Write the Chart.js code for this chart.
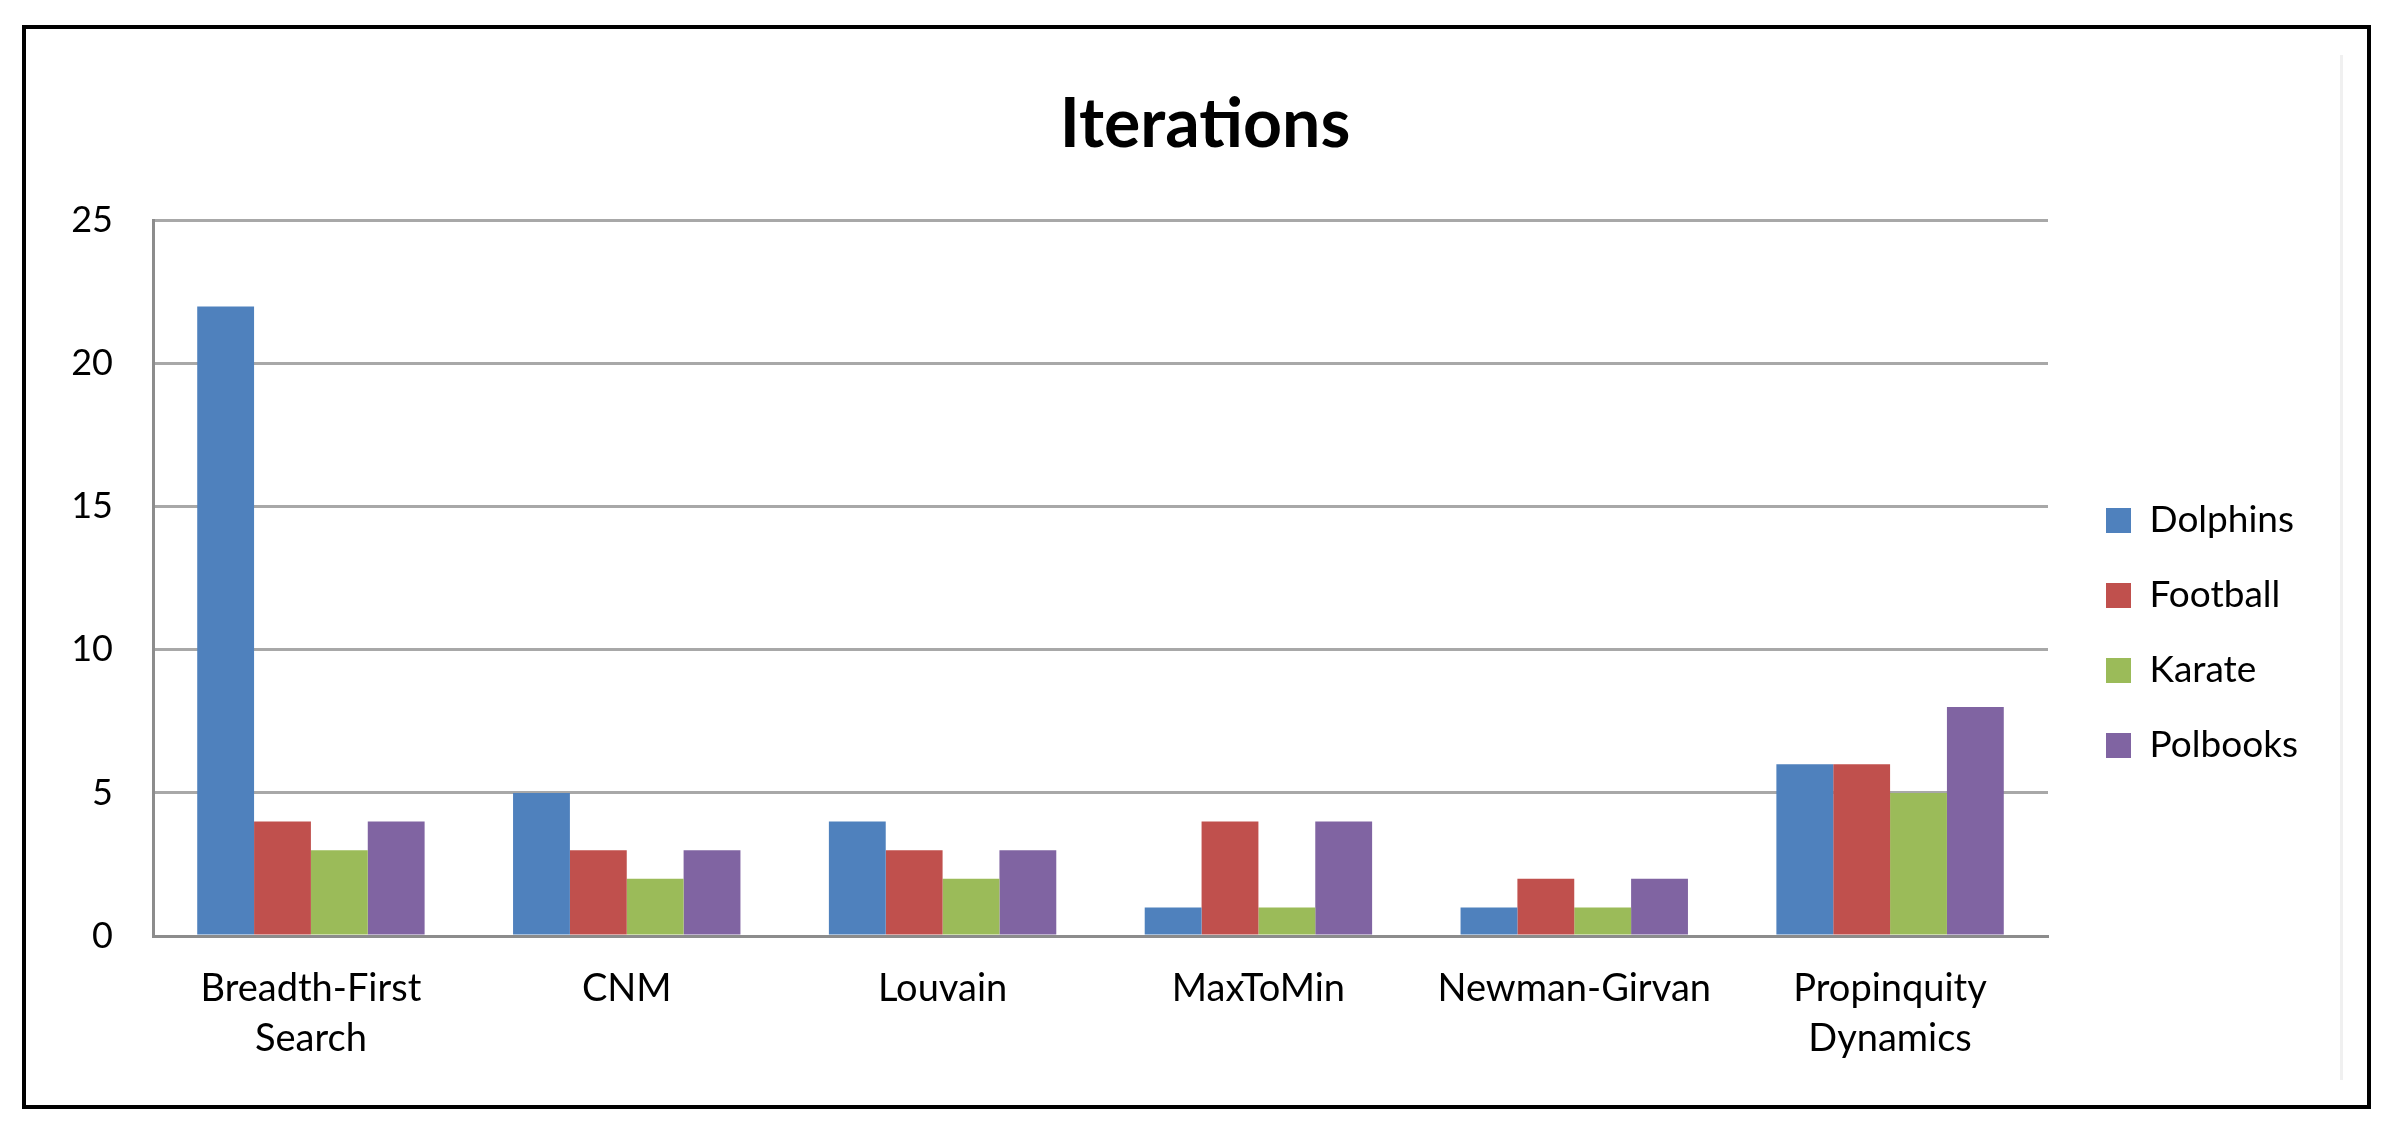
<!DOCTYPE html>
<html>
<head>
<meta charset="utf-8">
<script src="https://cdn.jsdelivr.net/npm/chart.js@4.4.1/dist/chart.umd.min.js"></script>
<style>
  html, body { margin: 0; padding: 0; background: #fff; }
  #wrap { position: relative; width: 2396px; height: 1130px; }
  #chart { position: absolute; left: 0; top: 0; }
  #frame {
    position: absolute; left: 22px; top: 25px; width: 2349px; height: 1084px;
    box-sizing: border-box; border: 4px solid #000; pointer-events: none;
  }
  #edge {
    position: absolute; left: 2340px; top: 55px; width: 3px; height: 1025px;
    background: #f0f0f0; pointer-events: none;
  }
</style>
</head>
<body>
<div id="wrap">
  <canvas id="chart" width="2396" height="1130"></canvas>
  <div id="edge"></div>
  <div id="frame"></div>
</div>
<script>
// data
const categories = [
  ["Breadth-First", "Search"],
  "CNM",
  "Louvain",
  "MaxToMin",
  "Newman-Girvan",
  ["Propinquity", "Dynamics"],
];
const seriesNames = ["Dolphins", "Football", "Karate", "Polbooks"];
const dolphins = [22, 5, 4, 1, 1, 6];
const football = [4, 3, 3, 4, 2, 6];
const karate = [3, 2, 2, 1, 1, 5];
const polbooks = [4, 3, 3, 4, 2, 8];
const yMin = 0;
const yMax = 25;
const yStep = 5;

const colors = ["#4f81bd", "#c0504d", "#9bbb59", "#8064a2"];
const FONT = "Lato, 'Open Sans', sans-serif";

// nudge legend / title to where Excel put them
const nudge = {
  id: "nudge",
  afterLayout(chart) {
    const lg = chart.legend;
    if (lg) {
      lg.left += 20;
      lg.right = 2380;
      lg.width = lg.right - lg.left;
      lg.top += 80; lg.bottom += 80;
    }
    const t = chart.titleBlock;
    if (t) {
      t.left += 71; t.right += 71;
    }
  },
};

document.addEventListener("DOMContentLoaded", () => {
  const ctx = document.getElementById("chart");
  new Chart(ctx, {
    type: "bar",
    data: {
      labels: categories,
      datasets: [dolphins, football, karate, polbooks].map((vals, i) => ({
        label: seriesNames[i],
        data: vals,
        backgroundColor: colors[i],
        borderWidth: 0,
        categoryPercentage: 0.72,
        barPercentage: 1.0,
      })),
    },
    options: {
      responsive: false,
      animation: false,
      devicePixelRatio: 1,
      layout: { padding: { left: 20, right: 148, top: 30, bottom: 54 } },
      plugins: {
        title: {
          display: true,
          text: "Iterations",
          color: "#000",
          font: { family: FONT, size: 68, weight: "bold", lineHeight: 1.2 },
          padding: { top: 54, bottom: 55 },
        },
        legend: {
          position: "right",
          maxWidth: 200,
          labels: {
            color: "#000",
            font: { family: FONT, size: 37 },
            boxWidth: 25,
            boxHeight: 25,
            padding: 38,
          },
        },
        tooltip: { enabled: false },
      },
      scales: {
        x: {
          grid: { display: false, drawTicks: false },
          border: { display: true, color: "#8c8c8c", width: 3 },
          ticks: {
            color: "#000",
            font: { family: FONT, size: 38, lineHeight: 1.32 },
            padding: 28,
            maxRotation: 0,
            autoSkip: false,
          },
          afterFit: (s) => { s.height = 140; },
        },
        y: {
          min: yMin,
          max: yMax,
          grid: { color: "#a8a8a8", lineWidth: 3, drawTicks: false },
          border: { display: true, color: "#8c8c8c", width: 3 },
          ticks: {
            stepSize: yStep,
            color: "#000",
            font: { family: FONT, size: 36 },
            padding: 40,
          },
          afterFit: (s) => { s.width = 133; },
        },
      },
    },
    plugins: [nudge],
  });
});
</script>
</body>
</html>
